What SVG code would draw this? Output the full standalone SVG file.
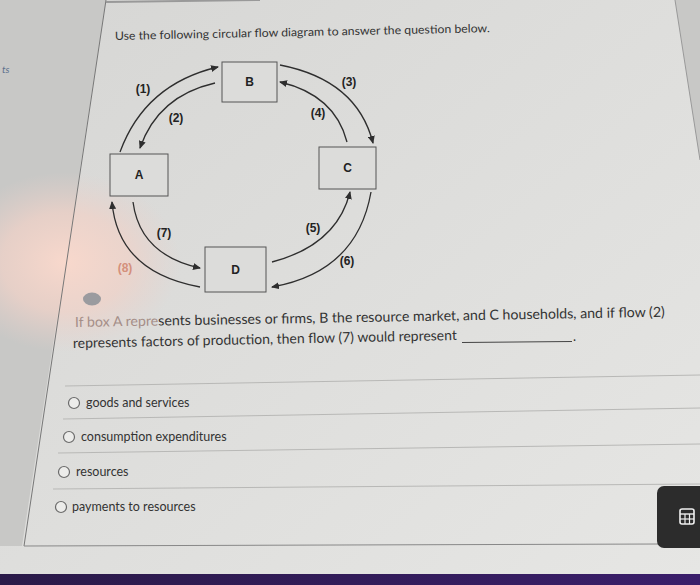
<svg xmlns="http://www.w3.org/2000/svg" width="700" height="585" viewBox="0 0 700 585">
<defs>
<style>
.arc{fill:none;stroke:#2e2e2e;stroke-width:1.3;marker-end:url(#ah)}
.box{fill:#dcdcda;stroke:#555;stroke-width:1}
.lbl{font-family:"Liberation Sans",Arial,sans-serif;font-weight:bold;font-size:12px;fill:#222;text-anchor:middle}
.txt{font-family:Lato,"Open Sans",sans-serif;fill:#333}
.opt{font-family:Lato,"Open Sans",sans-serif;font-size:12.5px;fill:#333}
.sep{stroke:#b8b8b6;stroke-width:1}
.radio{fill:#ececea;stroke:#6a6a6a;stroke-width:1.2}
</style>
<marker id="ah" markerUnits="userSpaceOnUse" markerWidth="8" markerHeight="7" refX="7" refY="3.5" orient="auto">
<path d="M0,0 L8,3.5 L0,7 z" fill="#2e2e2e"/>
</marker>
<linearGradient id="card" x1="0" y1="0" x2="1" y2="1">
<stop offset="0" stop-color="#d6d6d4"/>
<stop offset="1" stop-color="#e6e6e4"/>
</linearGradient>
<radialGradient id="glare" cx="0.5" cy="0.5" r="0.5">
<stop offset="0" stop-color="#f8d8cc" stop-opacity="1"/>
<stop offset="0.55" stop-color="#f0d2c8" stop-opacity="0.75"/>
<stop offset="1" stop-color="#e8d0ca" stop-opacity="0"/>
</radialGradient>
<linearGradient id="bar" x1="0" y1="0" x2="1" y2="0">
<stop offset="0" stop-color="#2a1a48"/>
<stop offset="1" stop-color="#3a1e6a"/>
</linearGradient>
</defs>

<!-- background -->
<rect x="0" y="0" width="700" height="585" fill="#c8c8c6"/>
<polygon points="106,0 675,0 700,160 700,575 0,575 0,546 22,546" fill="url(#card)"/>
<ellipse cx="65" cy="262" rx="115" ry="90" fill="url(#glare)"/>
<line x1="106" y1="0" x2="24" y2="546" stroke="#777" stroke-width="1"/>
<line x1="675" y1="0" x2="700" y2="160" stroke="#999" stroke-width="1"/>
<line x1="24" y1="546" x2="660" y2="544" stroke="#888" stroke-width="1"/>
<line x1="106" y1="2" x2="260" y2="0" stroke="#999" stroke-width="2"/>
<ellipse cx="92" cy="299" rx="9" ry="6.5" fill="#8c9096" opacity="0.85"/>
<rect x="0" y="574" width="700" height="11" fill="url(#bar)"/>
<text x="2" y="73" font-family="Lato,sans-serif" font-size="10" font-style="italic" fill="#5b6f8c">ts</text>

<text class="txt" x="115" y="40" font-size="11.5" textLength="375" lengthAdjust="spacingAndGlyphs" transform="rotate(-1.2 115 40)">Use the following circular flow diagram to answer the question below.</text>

<!-- connectors -->
<g id="connectors">
<path id="f1" class="arc" d="M120,152 Q145,84 218,67"/>
<path id="f2" class="arc" d="M215,83 Q158,96 140,148"/>
<path id="f3" class="arc" d="M280,65 Q357,80 373,143"/>
<path id="f4" class="arc" d="M347,142 Q335,95 280,82"/>
<path id="f5" class="arc" d="M272,262 Q337,245 350,192"/>
<path id="f6" class="arc" d="M371,192 Q357,272 272,287"/>
<path id="f7" class="arc" d="M133,202 Q140,255 200,268"/>
<path id="f8" class="arc" d="M200,287 Q118,272 112,202"/>
<text class="lbl" x="143" y="93">(1)</text>
<text class="lbl" x="176" y="122">(2)</text>
<text class="lbl" x="349" y="86">(3)</text>
<text class="lbl" x="318" y="117">(4)</text>
<text class="lbl" x="313" y="232">(5)</text>
<text class="lbl" x="347" y="265">(6)</text>
<text class="lbl" x="164" y="237">(7)</text>
<text class="lbl" x="125" y="272" style="fill:#d4907c">(8)</text>
</g>

<!-- nodes -->
<g id="node-B"><rect class="box" x="222" y="62" width="55" height="40"/><text class="lbl" x="249.5" y="86">B</text></g>
<g id="node-A"><rect class="box" x="110" y="154" width="58" height="42"/><text class="lbl" x="139" y="179">A</text></g>
<g id="node-C"><rect class="box" x="319" y="147" width="57" height="42"/><text class="lbl" x="347.5" y="172">C</text></g>
<g id="node-D"><rect class="box" x="205" y="247" width="61" height="45"/><text class="lbl" x="235.5" y="274">D</text></g>

<!-- question -->
<text class="txt" x="75" y="327" font-size="14" textLength="590" lengthAdjust="spacingAndGlyphs" transform="rotate(-1 75 327)"><tspan fill="#a58e88">If box A repre</tspan>sents businesses or firms, B the resource market, and C households, and if flow (2)</text>
<text class="txt" x="73" y="348" font-size="14" textLength="384" lengthAdjust="spacingAndGlyphs" transform="rotate(-1.2 73 348)">represents factors of production, then flow (7) would represent</text>
<line x1="462" y1="342.5" x2="572" y2="341.5" stroke="#444" stroke-width="1"/>
<text class="txt" x="573" y="341" font-size="13">.</text>

<!-- options -->
<line class="sep" x1="65" y1="386" x2="700" y2="375"/>
<line class="sep" x1="63" y1="419" x2="700" y2="408"/>
<line class="sep" x1="58" y1="453" x2="700" y2="444"/>
<line class="sep" x1="53" y1="489" x2="700" y2="484"/>
<g id="opt1"><circle class="radio" cx="74" cy="403" r="5.5"/><text class="opt" x="86" y="407">goods and services</text></g>
<g id="opt2"><circle class="radio" cx="69" cy="437" r="5.5"/><text class="opt" x="81" y="441">consumption expenditures</text></g>
<g id="opt3"><circle class="radio" cx="64" cy="472" r="5.5"/><text class="opt" x="76" y="476">resources</text></g>
<g id="opt4"><circle class="radio" cx="61" cy="507" r="5.5"/><text class="opt" x="72" y="511">payments to resources</text></g>

<!-- calculator button -->
<g id="calc">
<rect x="657" y="486" width="52" height="62" rx="7" fill="#2c2c2c"/>
<rect x="680" y="509" width="14" height="15" rx="2" fill="none" stroke="#f0f0f0" stroke-width="1.6"/>
<line x1="680" y1="514" x2="694" y2="514" stroke="#f0f0f0" stroke-width="1.4"/>
<line x1="680" y1="519" x2="694" y2="519" stroke="#f0f0f0" stroke-width="1.2"/>
<line x1="685" y1="514" x2="685" y2="524" stroke="#f0f0f0" stroke-width="1.2"/>
<line x1="689.5" y1="514" x2="689.5" y2="524" stroke="#f0f0f0" stroke-width="1.2"/>
</g>
</svg>
